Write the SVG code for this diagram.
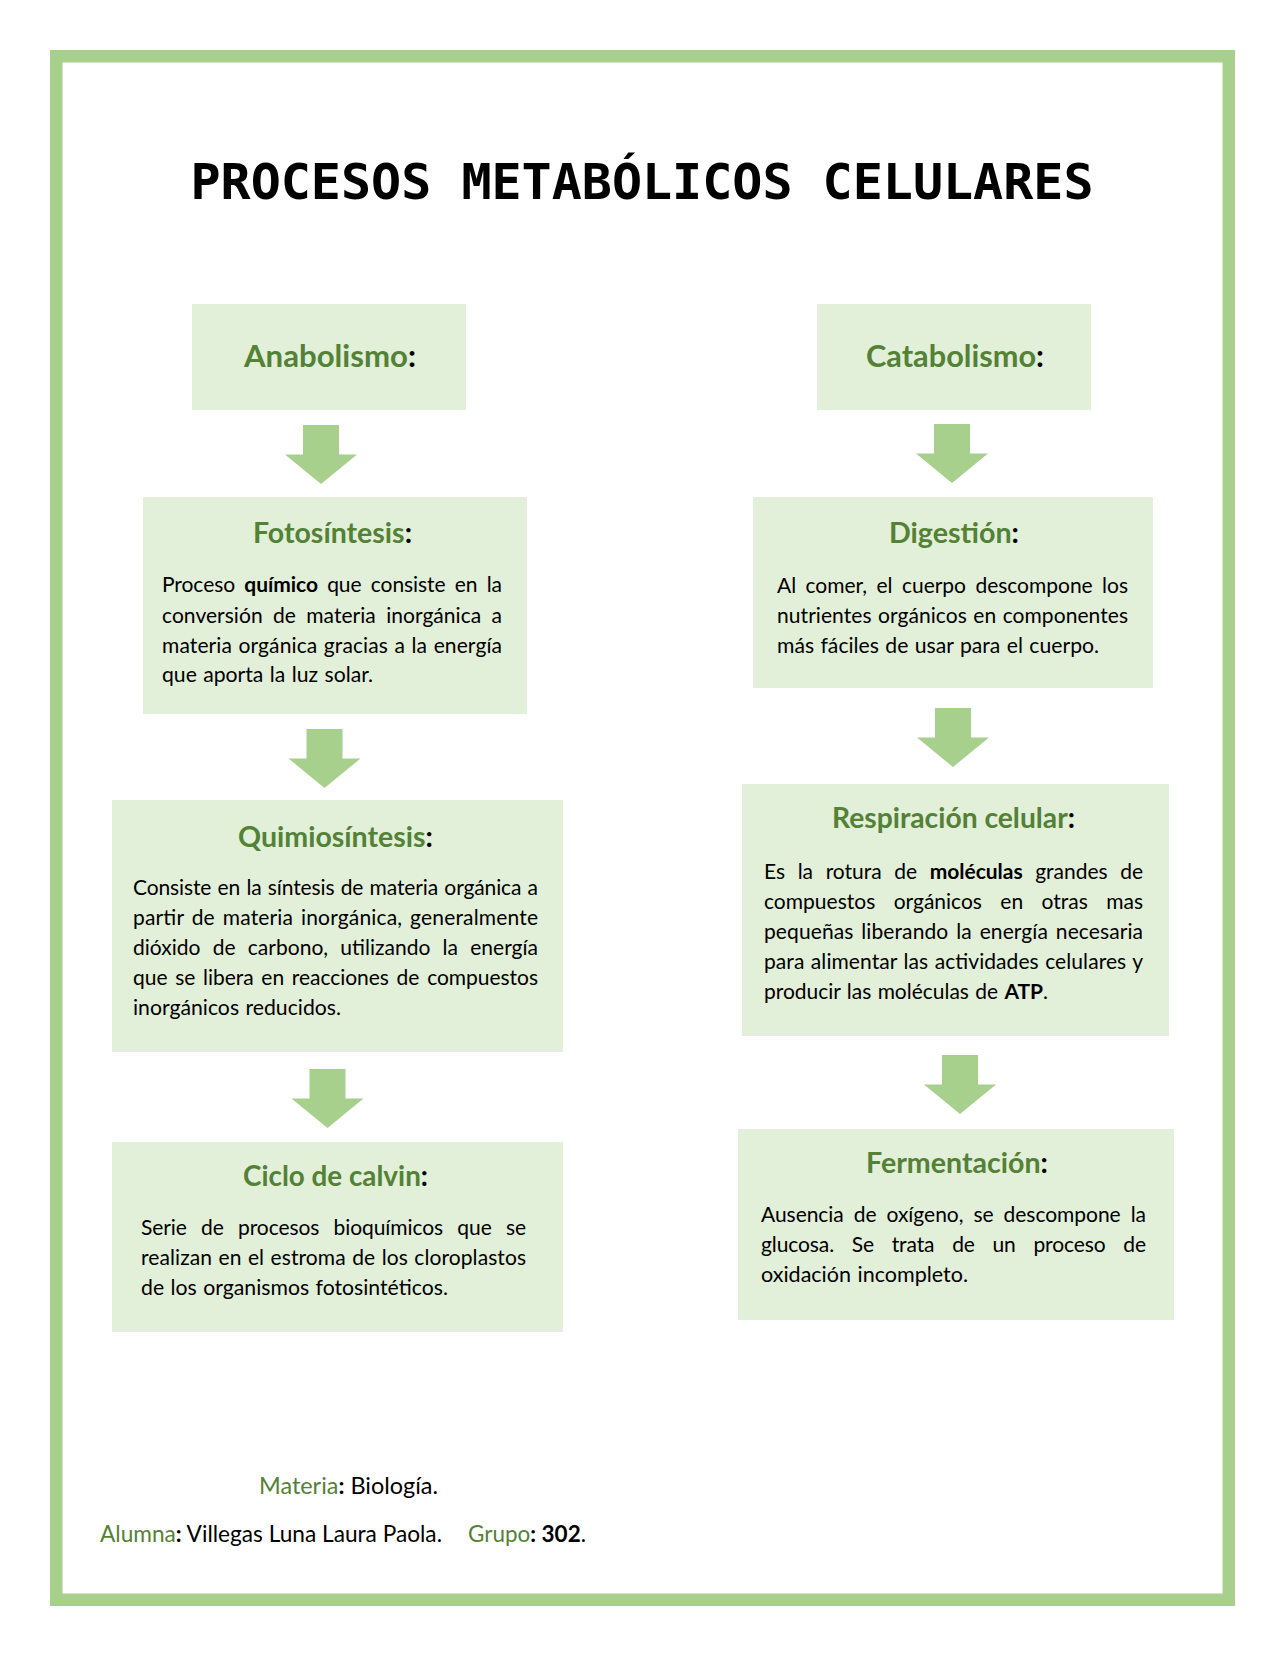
<svg xmlns="http://www.w3.org/2000/svg" width="1280" height="1656" viewBox="0 0 1280 1656">
<style>
.frame{fill:none;stroke:#A8D08D;stroke-width:12.5}
.box{fill:#E2EFD9}
.arrow{fill:#A8D08D}
.title{font-family:"DejaVu Sans Mono","Liberation Mono",monospace;font-weight:bold;font-size:50px;fill:#000}
.head{font-family:Lato,"Open Sans","Liberation Sans",sans-serif;font-weight:bold;font-size:28px;fill:#000}
.top{font-size:30px}
.g{fill:#538135}
.body{font-family:Lato,"Open Sans","Liberation Sans",sans-serif;font-size:21px;fill:#000;word-spacing:1px}
.b{font-weight:bold}
.foot{font-family:Lato,"Open Sans","Liberation Sans",sans-serif;font-size:22.5px;fill:#000}
</style>
<defs>
<path id="arr" d="M-18,0 H18 V29.5 H36 L0,59 L-36,29.5 H-18 Z"/>
</defs>
<rect width="1280" height="1656" fill="#fff"/>
<rect class="frame" x="56.25" y="56.25" width="1172.5" height="1543.5"/>
<text class="title" x="642" y="199" text-anchor="middle">PROCESOS METABÓLICOS CELULARES</text>

<g id="connectors">
<use href="#arr" class="arrow" x="321" y="425"/>
<use href="#arr" class="arrow" x="324.5" y="729"/>
<use href="#arr" class="arrow" x="327.5" y="1069"/>
<use href="#arr" class="arrow" x="952" y="424"/>
<use href="#arr" class="arrow" x="953" y="708"/>
<use href="#arr" class="arrow" x="960" y="1055"/>
</g>

<g id="anabolismo">
<rect class="box" x="192" y="304" width="274" height="106"/>
<text class="head top" x="244" y="367" textLength="172" lengthAdjust="spacingAndGlyphs"><tspan class="g">Anabolismo</tspan>:</text>
</g>

<g id="catabolismo">
<rect class="box" x="817" y="304" width="274" height="106"/>
<text class="head top" x="866" y="367" textLength="178" lengthAdjust="spacingAndGlyphs"><tspan class="g">Catabolismo</tspan>:</text>
</g>

<g id="fotosintesis">
<rect class="box" x="143" y="497" width="384" height="217"/>
<text class="head" x="253" y="543" textLength="159" lengthAdjust="spacingAndGlyphs"><tspan class="g">Fotosíntesis</tspan>:</text>
<text class="body" x="162" y="592" textLength="340" lengthAdjust="spacing" style="word-spacing:3.9px">Proceso <tspan class="b">químico</tspan> que consiste en la</text>
<text class="body" x="162" y="622.5" textLength="340" lengthAdjust="spacing" style="word-spacing:4.9px">conversión de materia inorgánica a</text>
<text class="body" x="162" y="652.5" textLength="340" lengthAdjust="spacing">materia orgánica gracias a la energía</text>
<text class="body" x="162" y="682" textLength="211" lengthAdjust="spacingAndGlyphs">que aporta la luz solar.</text>
</g>

<g id="quimiosintesis">
<rect class="box" x="112" y="800" width="451" height="252"/>
<text class="head" x="238" y="847" textLength="195" lengthAdjust="spacingAndGlyphs"><tspan class="g">Quimiosíntesis</tspan>:</text>
<text class="body" x="133" y="895" textLength="405" lengthAdjust="spacing">Consiste en la síntesis de materia orgánica a</text>
<text class="body" x="133" y="925" textLength="405" lengthAdjust="spacing" style="word-spacing:2.3px">partir de materia inorgánica, generalmente</text>
<text class="body" x="133" y="955" textLength="405" lengthAdjust="spacing" style="word-spacing:6.8px">dióxido de carbono, utilizando la energía</text>
<text class="body" x="133" y="985" textLength="405" lengthAdjust="spacing" style="word-spacing:2.4px">que se libera en reacciones de compuestos</text>
<text class="body" x="133" y="1015" textLength="208" lengthAdjust="spacingAndGlyphs">inorgánicos reducidos.</text>
</g>

<g id="ciclo-calvin">
<rect class="box" x="112" y="1142" width="451" height="190"/>
<text class="head" x="243" y="1186" textLength="185" lengthAdjust="spacingAndGlyphs"><tspan class="g">Ciclo de calvin</tspan>:</text>
<text class="body" x="141" y="1235" textLength="385" lengthAdjust="spacing" style="word-spacing:8.9px">Serie de procesos bioquímicos que se</text>
<text class="body" x="141" y="1265" textLength="385" lengthAdjust="spacing">realizan en el estroma de los cloroplastos</text>
<text class="body" x="141" y="1295" textLength="307" lengthAdjust="spacingAndGlyphs">de los organismos fotosintéticos.</text>
</g>

<g id="digestion">
<rect class="box" x="753" y="497" width="400" height="191"/>
<text class="head" x="889" y="543" textLength="130" lengthAdjust="spacingAndGlyphs"><tspan class="g">Digestión</tspan>:</text>
<text class="body" x="777" y="593" textLength="351" lengthAdjust="spacing" style="word-spacing:4.1px">Al comer, el cuerpo descompone los</text>
<text class="body" x="777" y="623" textLength="351" lengthAdjust="spacing">nutrientes orgánicos en componentes</text>
<text class="body" x="777" y="653" textLength="322" lengthAdjust="spacingAndGlyphs">más fáciles de usar para el cuerpo.</text>
</g>

<g id="respiracion-celular">
<rect class="box" x="742" y="784" width="427" height="252"/>
<text class="head" x="832" y="828" textLength="243" lengthAdjust="spacingAndGlyphs"><tspan class="g">Respiración celular</tspan>:</text>
<text class="body" x="764" y="879" textLength="379" lengthAdjust="spacing" style="word-spacing:7.3px">Es la rotura de <tspan class="b">moléculas</tspan> grandes de</text>
<text class="body" x="764" y="909" textLength="379" lengthAdjust="spacing" style="word-spacing:13px">compuestos orgánicos en otras mas</text>
<text class="body" x="764" y="939" textLength="379" lengthAdjust="spacing" style="word-spacing:2.4px">pequeñas liberando la energía necesaria</text>
<text class="body" x="764" y="969" textLength="379" lengthAdjust="spacing">para alimentar las actividades celulares y</text>
<text class="body" x="764" y="999" textLength="284" lengthAdjust="spacingAndGlyphs">producir las moléculas de <tspan class="b">ATP</tspan>.</text>
</g>

<g id="fermentacion">
<rect class="box" x="738" y="1129" width="436" height="191"/>
<text class="head" x="866" y="1173" textLength="182" lengthAdjust="spacingAndGlyphs"><tspan class="g">Fermentación</tspan>:</text>
<text class="body" x="761" y="1222" textLength="385" lengthAdjust="spacing" style="word-spacing:4.7px">Ausencia de oxígeno, se descompone la</text>
<text class="body" x="761" y="1252" textLength="385" lengthAdjust="spacing" style="word-spacing:12.4px">glucosa. Se trata de un proceso de</text>
<text class="body" x="761" y="1282" textLength="207" lengthAdjust="spacingAndGlyphs">oxidación incompleto.</text>
</g>

<g id="footer">
<text class="foot" x="259" y="1494" textLength="179" lengthAdjust="spacingAndGlyphs"><tspan class="g">Materia</tspan><tspan class="b">:</tspan> Biología.</text>
<text class="foot" x="100" y="1542" textLength="342" lengthAdjust="spacingAndGlyphs"><tspan class="g">Alumna</tspan><tspan class="b">:</tspan> Villegas Luna Laura Paola.</text>
<text class="foot" x="468" y="1542" textLength="118" lengthAdjust="spacingAndGlyphs"><tspan class="g">Grupo</tspan><tspan class="b">: 302</tspan>.</text>
</g>
</svg>
